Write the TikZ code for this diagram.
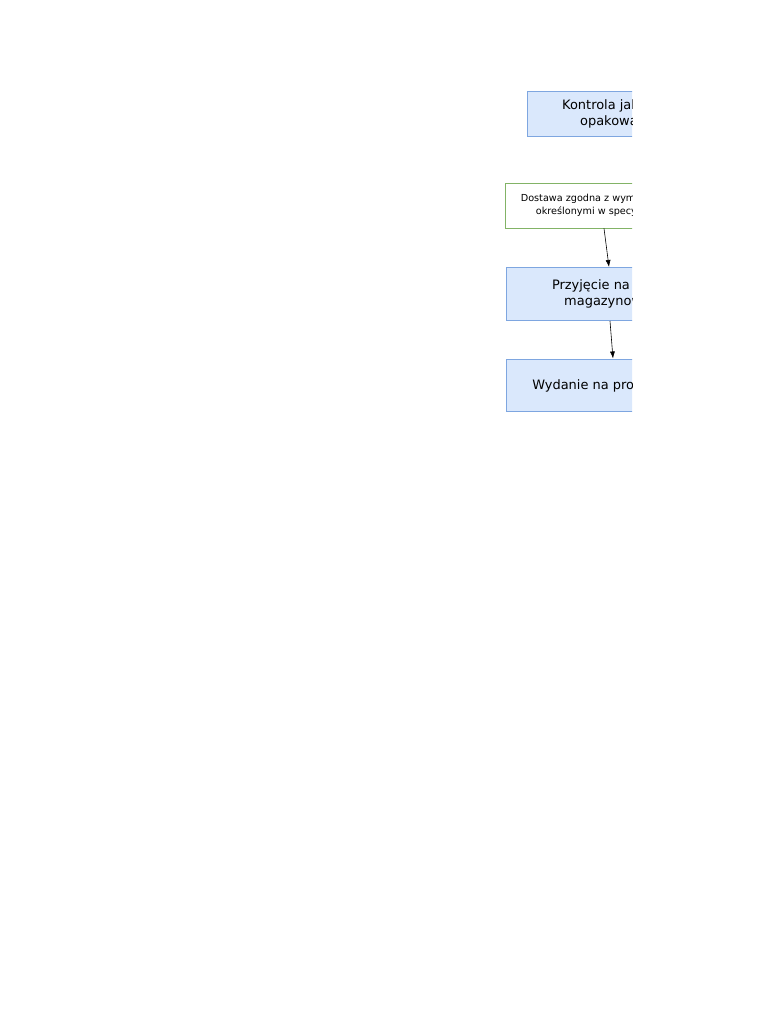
\documentclass[tikz,border=0pt]{standalone}
\usepackage{fontspec}
\setmainfont{DejaVu Sans}
\usepackage{xcolor}
\usetikzlibrary{positioning,arrows.meta}

\definecolor{boxblue}{HTML}{DAE8FC}
\definecolor{lineblue}{HTML}{7EA6E0}
\definecolor{linegreen}{HTML}{82B366}

\begin{document}
\begin{tikzpicture}[x=1bp,y=-1bp,
	stage/.style={draw=lineblue,fill=boxblue,line width=1bp,align=center,
		font=\fontsize{13}{16}\selectfont,inner sep=2bp},
	note/.style={draw=linegreen,fill=white,line width=0.8bp,align=center,
		font=\fontsize{9.7}{13}\selectfont,inner sep=2bp},
	flow/.style={-{Latex[length=7bp,width=5bp]},line width=0.6bp}]
	\useasboundingbox (0,0) rectangle (768,1024);
	
	\begin{scope}
	\clip (0,0) rectangle (632,1024);
	\node[stage,minimum width=172bp,minimum height=45bp] (kontrola) at (613,113.5) {Kontrola jakości\\opakowań};
	\node[note,minimum width=191bp,minimum height=45bp] (dostawa) at (600.5,205.5) {Dostawa zgodna z wymaganiami\\określonymi w specyfikacji};
	\node[stage,minimum width=202bp,minimum height=53bp] (przyjecie) at (607,294) {Przyjęcie na stan\\magazynowy};
	\node[stage,minimum width=197bp,minimum height=52bp,text depth=0bp] (wydanie) at (604.5,385) {Wydanie na produkcję};
	
	\draw[flow] ([xshift=3.5bp]dostawa.south) -- ([xshift=2bp]przyjecie.north);
	\draw[flow] ([xshift=3bp]przyjecie.south) -- ([xshift=8.5bp]wydanie.north);
	\end{scope}
\end{tikzpicture}
\end{document}
